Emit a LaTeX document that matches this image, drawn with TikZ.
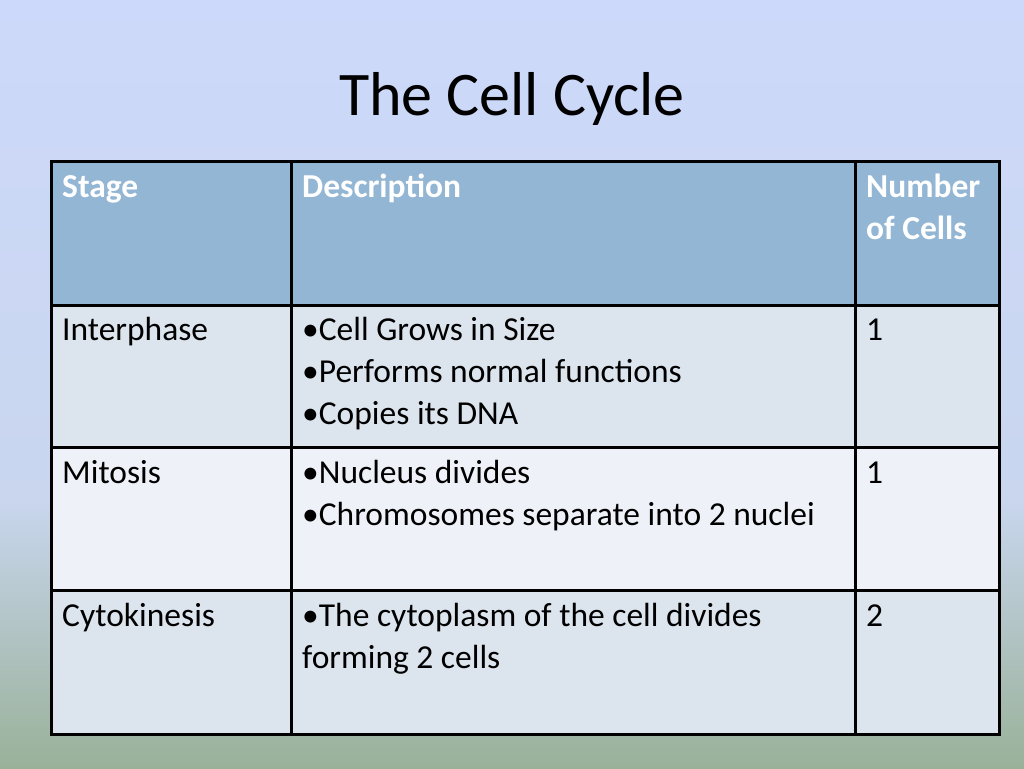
\documentclass[tikz,border=0pt]{standalone}
\usepackage{fontspec}
\setmainfont{Carlito}
\definecolor{bgtop}{HTML}{CDD9FA}
\definecolor{bgmid}{HTML}{C9D6EE}
\definecolor{bgbot}{HTML}{99B199}
\definecolor{head}{HTML}{93B6D4}
\definecolor{rowa}{HTML}{DCE4EE}
\definecolor{rowb}{HTML}{EEF2F8}
\begin{document}
\begin{tikzpicture}[x=1pt,y=-1pt,
  body/.style={anchor=base west,inner sep=0,font=\fontsize{33.5}{42}\selectfont},
  hd/.style={body,text=white,font=\fontsize{33.5}{42}\selectfont\bfseries}]
\useasboundingbox (0,0) rectangle (1024,768);
\shade[top color=bgtop,bottom color=bgmid] (0,0) rectangle (1024,500);
\shade[top color=bgmid,bottom color=bgbot] (0,500) rectangle (1024,768);
\node[anchor=base,inner sep=0,font=\fontsize{62}{70}\selectfont] (title) at (512,115) {The Cell Cycle};
\fill[head] (51,161) rectangle (999,305);
\fill[rowa] (51,305) rectangle (999,447);
\fill[rowb] (51,447) rectangle (999,590);
\fill[rowa] (51,590) rectangle (999,734);
\draw[line width=3] (51,161) rectangle (999,734);
\draw[line width=3] (291,161) -- (291,734) (855,161) -- (855,734)
  (51,305) -- (999,305) (51,447) -- (999,447) (51,590) -- (999,590);
\node[hd] (h1) at (62,197) {Stage};
\node[hd] (h2) at (302,197) {Description};
\node[hd] (h3) at (866,197) {Number};
\node[hd] (h3b) at (866,239) {of Cells};
\node[body] (r1a) at (62,340) {Interphase};
\node[body] (r1b1) at (302,340) {•Cell Grows in Size};
\node[body] (r1b2) at (302,382) {•Performs normal functions};
\node[body] (r1b3) at (302,424) {•Copies its DNA};
\node[body] (r1c) at (866,340) {1};
\node[body] (r2a) at (62,483) {Mitosis};
\node[body] (r2b1) at (302,483) {•Nucleus divides};
\node[body] (r2b2) at (302,525) {•Chromosomes separate into 2 nuclei};
\node[body] (r2c) at (866,483) {1};
\node[body] (r3a) at (62,626) {Cytokinesis};
\node[body] (r3b1) at (302,626) {•The cytoplasm of the cell divides};
\node[body] (r3b2) at (302,668) {forming 2 cells};
\node[body] (r3c) at (866,626) {2};
\end{tikzpicture}
\end{document}
